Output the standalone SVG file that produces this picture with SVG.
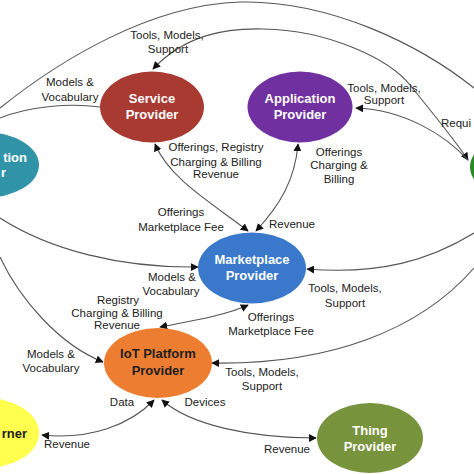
<svg xmlns="http://www.w3.org/2000/svg" width="474" height="474" viewBox="0 0 474 474">
<defs>
<marker id="ah" viewBox="0 0 10 10" refX="9" refY="5" markerWidth="8" markerHeight="8" markerUnits="userSpaceOnUse" orient="auto-start-reverse">
<path d="M0,0 L10,5 L0,10 z" fill="#111"/>
</marker>
</defs>
<style>
.c{fill:none;stroke:#555;stroke-width:1.1}
.l{font-family:"Liberation Sans",Arial,sans-serif;font-size:11.5px;fill:#222;text-anchor:middle}
.n{font-family:"Liberation Sans",Arial,sans-serif;font-size:13px;font-weight:bold;fill:#fff;text-anchor:middle}
.d{fill:#1e1e1e}
</style>
<rect width="474" height="474" fill="#fff"/>
<g id="connectors">
<path class="c" d="M0,108 C60,60 150,5 240,2 C330,0 420,45 474,88"/>
<path class="c" d="M153,69 C185,35 225,28 263,29 C330,30 390,60 410,85 C430,110 455,140 468,160" marker-start="url(#ah)" marker-end="url(#ah)"/>
<path class="c" d="M468,160 C445,135 405,110 356,108" marker-end="url(#ah)"/>
<path class="c" d="M0,118 C30,106 70,103 100,107"/>
<path class="c" d="M155,144 C170,180 215,205 248,231" marker-start="url(#ah)" marker-end="url(#ah)"/>
<path class="c" d="M298,144 C295,180 280,205 256,231" marker-start="url(#ah)" marker-end="url(#ah)"/>
<path class="c" d="M0,218 C50,250 120,268 198,267" marker-end="url(#ah)"/>
<path class="c" d="M0,257 C20,300 60,345 103,362" marker-end="url(#ah)"/>
<path class="c" d="M248,305 C225,316 185,322 160,327" marker-start="url(#ah)" marker-end="url(#ah)"/>
<path class="c" d="M474,233 C430,260 380,275 307,269" marker-end="url(#ah)"/>
<path class="c" d="M474,268 C420,330 330,365 212,363" marker-end="url(#ah)"/>
<path class="c" d="M162,400 C190,425 250,438 316,438" marker-start="url(#ah)" marker-end="url(#ah)"/>
<path class="c" d="M154,400 C130,425 90,440 42,435" marker-start="url(#ah)" marker-end="url(#ah)"/>
</g>
<g id="labels">
<text class="l" x="167" y="39">Tools, Models,</text>
<text class="l" x="168" y="53">Support</text>
<text class="l" x="70" y="86">Models &amp;</text>
<text class="l" x="70" y="101">Vocabulary</text>
<text class="l" x="384" y="92">Tools, Models,</text>
<text class="l" x="384" y="104">Support</text>
<text class="l" x="441" y="127" style="text-anchor:start">Requi</text>
<text class="l" x="216" y="151">Offerings, Registry</text>
<text class="l" x="216" y="166">Charging &amp; Billing</text>
<text class="l" x="216" y="178">Revenue</text>
<text class="l" x="339" y="156">Offerings</text>
<text class="l" x="339" y="169">Charging &amp;</text>
<text class="l" x="339" y="183">Billing</text>
<text class="l" x="181" y="216">Offerings</text>
<text class="l" x="181" y="231">Marketplace Fee</text>
<text class="l" x="292" y="228">Revenue</text>
<text class="l" x="172" y="281">Models &amp;</text>
<text class="l" x="171" y="295">Vocabulary</text>
<text class="l" x="345" y="292">Tools, Models,</text>
<text class="l" x="345" y="307">Support</text>
<text class="l" x="118" y="304">Registry</text>
<text class="l" x="117" y="317">Charging &amp; Billing</text>
<text class="l" x="117" y="329">Revenue</text>
<text class="l" x="271" y="321">Offerings</text>
<text class="l" x="271" y="335">Marketplace Fee</text>
<text class="l" x="51" y="358">Models &amp;</text>
<text class="l" x="51" y="372">Vocabulary</text>
<text class="l" x="262" y="376">Tools, Models,</text>
<text class="l" x="262" y="390">Support</text>
<text class="l" x="122" y="406">Data</text>
<text class="l" x="205" y="406">Devices</text>
<text class="l" x="67" y="448">Revenue</text>
<text class="l" x="287" y="453">Revenue</text>
</g>
<g id="service-provider">
<ellipse cx="152" cy="107" rx="52" ry="35.5" fill="#a83a32"/>
<text class="n" x="152" y="103">Service</text>
<text class="n" x="152" y="119">Provider</text>
</g>
<g id="application-provider">
<ellipse cx="300" cy="107" rx="52.5" ry="35.5" fill="#7030a0"/>
<text class="n" x="300" y="103">Application</text>
<text class="n" x="300" y="119">Provider</text>
</g>
<g id="left-node">
<ellipse cx="-16" cy="165" rx="55" ry="33" fill="#3093a8"/>
<text class="n" x="27" y="162" style="text-anchor:end">tion</text>
<text class="n" x="6" y="177" style="text-anchor:end">r</text>
</g>
<g id="right-node">
<ellipse cx="524" cy="167" rx="54" ry="33" fill="#2a8a2a"/>
</g>
<g id="marketplace-provider">
<ellipse cx="252" cy="268" rx="54" ry="35.5" fill="#3a78cc"/>
<text class="n" x="252" y="264">Marketplace</text>
<text class="n" x="252" y="280">Provider</text>
</g>
<g id="iot-platform-provider">
<ellipse cx="158" cy="363" rx="54" ry="35" fill="#ed7d31"/>
<text class="n d" x="158" y="358">IoT Platform</text>
<text class="n d" x="158" y="375">Provider</text>
</g>
<g id="bottom-left-node">
<ellipse cx="-15" cy="433" rx="54" ry="35" fill="#ffff4d"/>
<text class="n d" x="27" y="438" style="text-anchor:end">rner</text>
</g>
<g id="thing-provider">
<ellipse cx="370" cy="438" rx="53" ry="35" fill="#77933c"/>
<text class="n" x="370" y="435">Thing</text>
<text class="n" x="370" y="451">Provider</text>
</g>
</svg>
